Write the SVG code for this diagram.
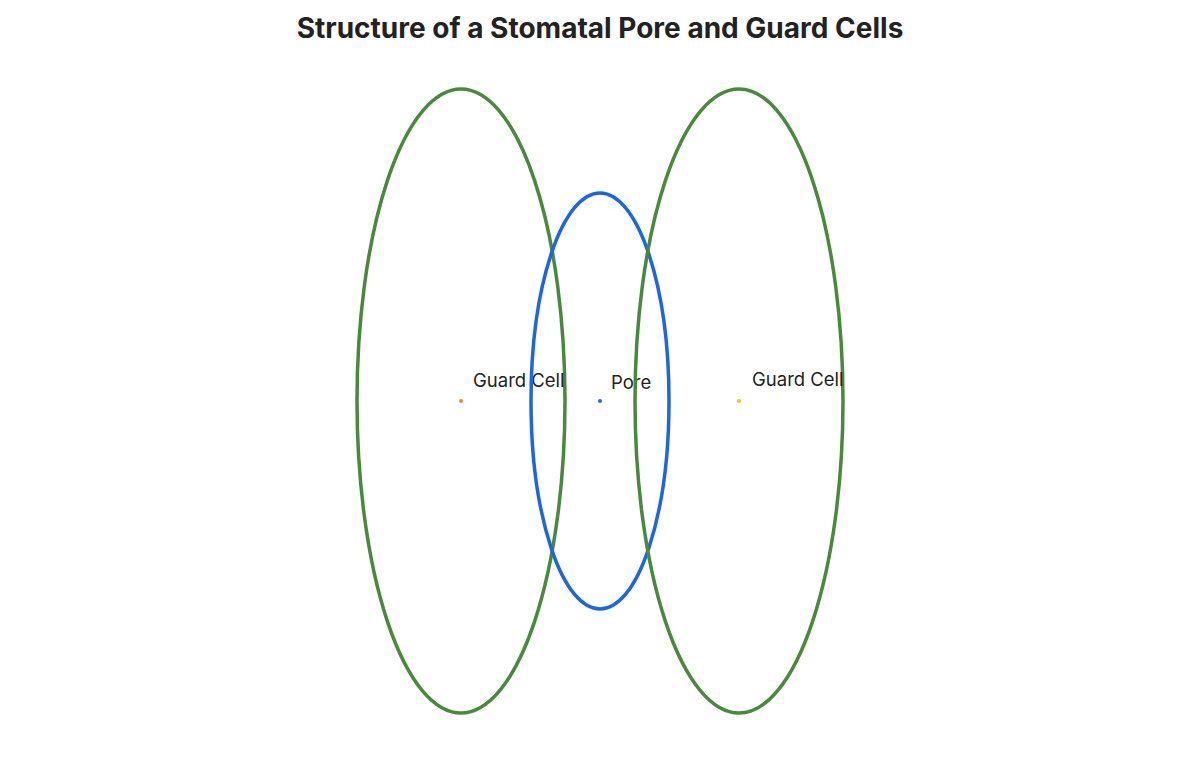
<svg xmlns="http://www.w3.org/2000/svg" width="1200" height="763" viewBox="0 0 1200 763">
<style>
.cell{fill:none;stroke:#468a3a;stroke-width:3.5}
.pore{fill:none;stroke:#1a66e6;stroke-width:3.5}
.lbl{font-family:Inter,"Liberation Sans",sans-serif;font-size:18.5px;fill:#222}
.title{font-family:Inter,"Liberation Sans",sans-serif;font-size:28px;font-weight:bold;fill:#222}
</style>
<rect width="1200" height="763" fill="#fff"/>
<text class="title" x="600" y="38" text-anchor="middle">Structure of a Stomatal Pore and Guard Cells</text>
<g id="guard-left"><ellipse class="cell" cx="461" cy="401" rx="104" ry="312"/><circle cx="461" cy="401" r="2" fill="#f08a1c"/><text class="lbl" x="473" y="387">Guard Cell</text></g>
<g id="pore"><ellipse class="pore" cx="600" cy="401" rx="69" ry="208"/><circle cx="600" cy="401" r="2" fill="#1a66e6"/><text class="lbl" x="611" y="389">Pore</text></g>
<g id="guard-right"><ellipse class="cell" cx="739" cy="401" rx="104" ry="312"/><circle cx="739" cy="401" r="2" fill="#f5c21b"/><text class="lbl" x="752" y="386">Guard Cell</text></g>
<g id="connectors"></g>
</svg>
